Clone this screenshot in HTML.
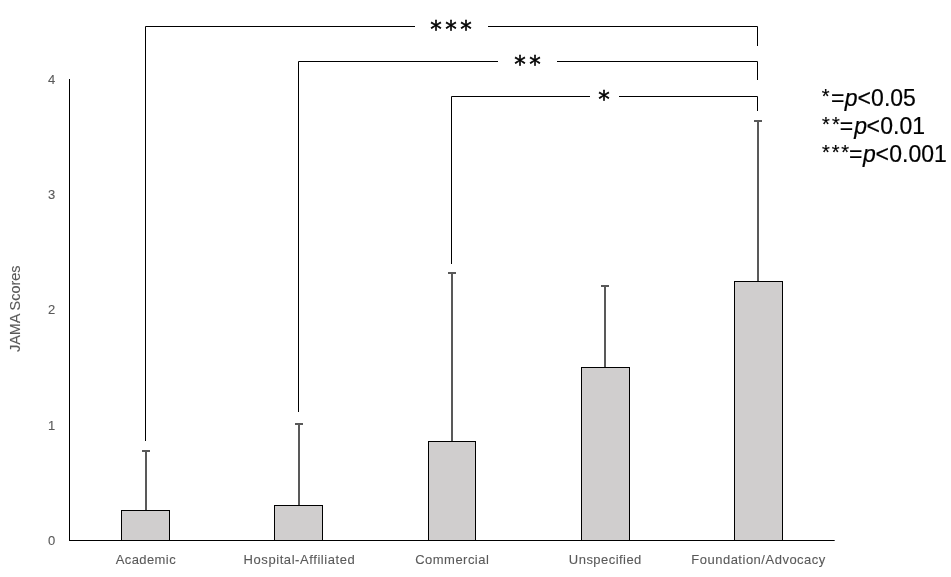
<!DOCTYPE html>
<html>
<head>
<meta charset="utf-8">
<title>JAMA Scores chart</title>
<style>
html,body{margin:0;padding:0;background:#fff;}
body{width:951px;height:577px;overflow:hidden;}
svg{display:block;will-change:transform;}
.lbl{font-family:"Liberation Sans",Arial,sans-serif;font-size:13px;fill:#595959;stroke:#595959;stroke-width:0.1px;}
.ast{font-family:"DejaVu Sans",sans-serif;font-size:23px;fill:#000;stroke:#000;stroke-width:0.5px;}
.leg{font-family:"Liberation Sans",Arial,sans-serif;font-size:23px;fill:#000;stroke:#000;stroke-width:0.2px;}
.la{font-size:20px;}
</style>
</head>
<body>
<svg width="951" height="577" viewBox="0 0 951 577">
<rect x="0" y="0" width="951" height="577" fill="#fff"/>

<!-- bars -->
<g fill="#D0CECE" stroke="#000" stroke-width="1">
<rect x="121.5" y="510.5" width="48" height="30"/>
<rect x="274.5" y="505.5" width="48" height="35"/>
<rect x="428.5" y="441.5" width="47" height="99"/>
<rect x="581.5" y="367.5" width="48" height="173"/>
<rect x="734.5" y="281.5" width="48" height="259"/>
</g>

<!-- error bars -->
<g stroke="#595959" stroke-width="2" fill="none">
<path d="M146 510V451M142 451H150"/>
<path d="M299 505V424M295 424H303"/>
<path d="M452 441V273M448 273H456"/>
<path d="M605 367V286M601 286H609"/>
<path d="M758 281V121M754 121H762"/>
</g>

<!-- axes -->
<g stroke="#000" stroke-width="1" fill="none">
<path d="M69.5 79V541"/>
<path d="M69 540.5H834.7"/>
</g>

<!-- significance brackets -->
<g stroke="#000" stroke-width="1" fill="none">
<path d="M145.5 441V26.5H415"/>
<path d="M488 26.5H757.5V46"/>
<path d="M298.5 412V61.5H498"/>
<path d="M557 61.5H757.5V80"/>
<path d="M451.5 264V96.5H590"/>
<path d="M619 96.5H757.5V111"/>
</g>
<text class="ast" x="430.2" y="37" letter-spacing="3.5">***</text>
<text class="ast" x="514.2" y="72" letter-spacing="3.5">**</text>
<text class="ast" x="598.2" y="107">*</text>

<!-- y tick labels -->
<g class="lbl" text-anchor="end">
<text x="55.2" y="84">4</text>
<text x="55.2" y="199">3</text>
<text x="55.2" y="314">2</text>
<text x="55.2" y="430">1</text>
<text x="55.2" y="545">0</text>
</g>

<!-- y axis title -->
<text class="lbl" transform="translate(20 308.8) rotate(-90)" text-anchor="middle" style="font-size:15.5px" textLength="86.5" lengthAdjust="spacingAndGlyphs">JAMA Scores</text>

<!-- category labels -->
<g class="lbl" text-anchor="middle">
<text x="145.7" y="564" textLength="59.9">Academic</text>
<text x="299.2" y="564" textLength="111.2">Hospital-Affiliated</text>
<text x="452" y="564" textLength="73.6">Commercial</text>
<text x="605.1" y="564" textLength="72.5">Unspecified</text>
<text x="758.3" y="564" textLength="134.1">Foundation/Advocacy</text>
</g>

<!-- legend -->
<g class="leg">
<text y="106"><tspan class="la" x="821.8" y="102.9">*</tspan><tspan x="831" y="105.5">=</tspan><tspan x="844.8" y="106" font-style="italic">p</tspan><tspan x="857.4">&lt;</tspan><tspan x="871.1">0.05</tspan></text>
<text y="134"><tspan class="la" x="822.1" y="130.9" letter-spacing="2.1">**</tspan><tspan x="839.7" y="133.5">=</tspan><tspan x="854.3" y="134" font-style="italic">p</tspan><tspan x="866.6">&lt;</tspan><tspan x="880.3">0.01</tspan></text>
<text y="162"><tspan class="la" x="822.1" y="158.9" letter-spacing="1.8">***</tspan><tspan x="848.9" y="161.5">=</tspan><tspan x="863.1" y="162" font-style="italic">p</tspan><tspan x="875.6">&lt;</tspan><tspan x="889.3">0.001</tspan></text>
</g>
</svg>
</body>
</html>
